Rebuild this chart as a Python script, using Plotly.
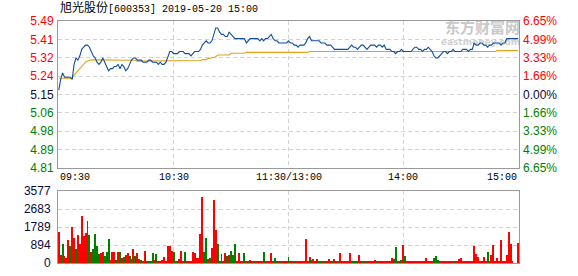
import plotly.graph_objects as go

# ---------------- data ----------------
title_text = "旭光股份[600353] 2019-05-20 15:00"
prev_close = 5.15
max_pct = 6.65
price_tick_labels = ["5.49", "5.41", "5.32", "5.24", "5.15", "5.06", "4.98", "4.89", "4.81"]
pct_tick_labels = ["6.65%", "4.99%", "3.33%", "1.66%", "0.00%", "1.66%", "3.33%", "4.99%", "6.65%"]
vol_tick_labels = ["0", "894", "1789", "2683", "3577"]
time_labels = ["09:30", "10:30", "11:30/13:00", "14:00", "15:00"]
time_label_minutes = [0, 60, 120, 180, 240]

price = [
    5.17, 5.22, 5.25, 5.23, 5.23, 5.23, 5.23, 5.22, 5.29, 5.32,
    5.31, 5.33, 5.36, 5.37, 5.38, 5.38, 5.37, 5.35, 5.33, 5.32,
    5.30, 5.29, 5.30, 5.32, 5.30, 5.28, 5.26, 5.27, 5.27, 5.28,
    5.28, 5.29, 5.27, 5.29, 5.28, 5.26, 5.27, 5.29, 5.31, 5.32,
    5.32, 5.31, 5.31, 5.31, 5.30, 5.30, 5.30, 5.31, 5.31, 5.30,
    5.30, 5.30, 5.29, 5.30, 5.29, 5.29, 5.30, 5.33, 5.35, 5.35,
    5.34, 5.34, 5.34, 5.35, 5.35, 5.35, 5.34, 5.34, 5.34, 5.33,
    5.34, 5.35, 5.35, 5.35, 5.36, 5.38, 5.39, 5.40, 5.39, 5.39,
    5.40, 5.43, 5.46, 5.46, 5.44, 5.43, 5.43, 5.42, 5.42, 5.44,
    5.43, 5.42, 5.41, 5.41, 5.41, 5.41, 5.41, 5.41, 5.39, 5.40,
    5.41, 5.41, 5.41, 5.41, 5.41, 5.40, 5.41, 5.40, 5.41, 5.41,
    5.42, 5.43, 5.41, 5.40, 5.40, 5.39, 5.39, 5.39, 5.39, 5.39,
    5.40, 5.39, 5.39, 5.38, 5.38, 5.37, 5.38, 5.38, 5.38, 5.39,
    5.41, 5.42, 5.40, 5.40, 5.40, 5.40, 5.40, 5.39, 5.39, 5.39,
    5.38, 5.38, 5.38, 5.37, 5.36, 5.36, 5.36, 5.36, 5.36, 5.36,
    5.36, 5.36, 5.37, 5.38, 5.37, 5.37, 5.36, 5.37, 5.38, 5.38,
    5.37, 5.36, 5.37, 5.38, 5.38, 5.38, 5.37, 5.38, 5.38, 5.37,
    5.38, 5.36, 5.36, 5.36, 5.35, 5.35, 5.34, 5.35, 5.35, 5.36,
    5.35, 5.35, 5.35, 5.35, 5.35, 5.36, 5.37, 5.37, 5.36, 5.36,
    5.35, 5.36, 5.36, 5.37, 5.36, 5.35, 5.33, 5.32, 5.32, 5.33,
    5.34, 5.35, 5.35, 5.34, 5.35, 5.35, 5.36, 5.35, 5.35, 5.35,
    5.35, 5.36, 5.36, 5.36, 5.35, 5.36, 5.36, 5.39, 5.38, 5.38,
    5.39, 5.39, 5.38, 5.38, 5.37, 5.38, 5.38, 5.39, 5.39, 5.39,
    5.39, 5.38, 5.39, 5.39, 5.41, 5.41, 5.41, 5.41, 5.41, 5.41,
    5.41,
]

avg_price = [
    5.225, 5.225, 5.225, 5.225, 5.225, 5.225, 5.225, 5.225, 5.240, 5.250,
    5.260, 5.270, 5.285, 5.295, 5.300, 5.306, 5.310, 5.311, 5.311, 5.311,
    5.311, 5.311, 5.311, 5.311, 5.311, 5.311, 5.311, 5.311, 5.311, 5.311,
    5.311, 5.311, 5.311, 5.311, 5.309, 5.309, 5.309, 5.309, 5.309, 5.309,
    5.309, 5.305, 5.305, 5.305, 5.305, 5.305, 5.305, 5.305, 5.305, 5.305,
    5.305, 5.305, 5.305, 5.305, 5.305, 5.305, 5.305, 5.305, 5.305, 5.305,
    5.305, 5.308, 5.308, 5.308, 5.308, 5.308, 5.308, 5.308, 5.308, 5.308,
    5.308, 5.308, 5.308, 5.308, 5.308, 5.312, 5.312, 5.312, 5.318, 5.318,
    5.322, 5.322, 5.326, 5.334, 5.334, 5.334, 5.334, 5.334, 5.334, 5.334,
    5.342, 5.342, 5.342, 5.342, 5.342, 5.342, 5.342, 5.342, 5.346, 5.346,
    5.346, 5.346, 5.346, 5.346, 5.346, 5.346, 5.346, 5.346, 5.346, 5.346,
    5.346, 5.346, 5.346, 5.346, 5.346, 5.346, 5.346, 5.346, 5.346, 5.346,
    5.346, 5.346, 5.346, 5.346, 5.346, 5.346, 5.346, 5.346, 5.346, 5.346,
    5.346, 5.350, 5.350, 5.350, 5.350, 5.350, 5.350, 5.350, 5.350, 5.350,
    5.350, 5.350, 5.350, 5.350, 5.350, 5.350, 5.350, 5.350, 5.350, 5.350,
    5.350, 5.350, 5.350, 5.350, 5.350, 5.350, 5.350, 5.350, 5.350, 5.350,
    5.350, 5.350, 5.350, 5.350, 5.350, 5.350, 5.350, 5.350, 5.350, 5.350,
    5.350, 5.350, 5.350, 5.350, 5.350, 5.350, 5.350, 5.350, 5.350, 5.350,
    5.350, 5.350, 5.350, 5.350, 5.350, 5.350, 5.350, 5.350, 5.350, 5.350,
    5.350, 5.350, 5.350, 5.350, 5.350, 5.350, 5.350, 5.350, 5.350, 5.350,
    5.350, 5.350, 5.350, 5.350, 5.350, 5.350, 5.350, 5.350, 5.350, 5.350,
    5.350, 5.350, 5.350, 5.350, 5.350, 5.350, 5.350, 5.350, 5.350, 5.350,
    5.350, 5.350, 5.350, 5.350, 5.350, 5.350, 5.350, 5.350, 5.350, 5.354,
    5.354, 5.354, 5.354, 5.354, 5.354, 5.354, 5.354, 5.354, 5.354, 5.354,
    5.354,
]

volume = [
    1530, 400, 965, 355, 240, 1160, 837, 1800, 1255, 676,
    1370, 934, 2335, 1320, 1500, 2077, 1370, 530, 676, 1450,
    837, 435, 480, 560, 320, 550, 1200, 160, 560, 560,
    130, 530, 560, 240, 290, 400, 515, 320, 190, 700,
    320, 480, 190, 130, 80, 610, 80, 80, 80, 480,
    130, 450, 80, 80, 160, 290, 64, 850, 850, 580,
    530, 64, 64, 190, 610, 64, 530, 50, 50, 64,
    530, 480, 225, 225, 1450, 3285, 530, 1255, 190, 240,
    725, 3140, 1640, 920, 100, 450, 100, 480, 355, 400,
    580, 400, 950, 80, 480, 50, 80, 480, 64, 80,
    160, 50, 100, 50, 50, 50, 50, 560, 50, 50,
    50, 480, 64, 225, 50, 50, 50, 50, 50, 50,
    290, 50, 50, 50, 50, 50, 50, 50, 80, 1210,
    50, 290, 160, 190, 80, 190, 50, 50, 50, 50,
    50, 190, 110, 50, 190, 50, 50, 480, 50, 50,
    50, 50, 480, 50, 50, 50, 50, 390, 80, 50,
    50, 50, 50, 110, 50, 130, 50, 50, 50, 50,
    50, 50, 50, 50, 240, 190, 770, 50, 50, 160,
    885, 340, 50, 50, 50, 50, 50, 50, 50, 50,
    50, 50, 240, 50, 50, 50, 240, 340, 160, 50,
    50, 50, 80, 50, 50, 50, 80, 50, 50, 190,
    240, 50, 50, 50, 50, 80, 50, 837, 435, 290,
    50, 50, 290, 50, 530, 80, 400, 885, 80, 240,
    50, 1127, 80, 80, 400, 1530, 934, 50, 0, 0,
    1014,
]

volume_up = [
    1, 1, 0, 1, 1, 1, 0, 1, 1, 0,
    1, 1, 1, 1, 1, 0, 0, 1, 0, 0,
    0, 0, 1, 1, 0, 0, 0, 1, 1, 1,
    0, 1, 0, 1, 0, 1, 1, 0, 1, 1,
    0, 1, 1, 0, 1, 1, 1, 0, 0, 0,
    1, 0, 1, 1, 1, 1, 1, 1, 1, 1,
    0, 1, 0, 1, 1, 1, 0, 1, 1, 1,
    1, 1, 1, 1, 1, 1, 0, 0, 1, 0,
    1, 1, 1, 0, 0, 1, 1, 1, 0, 1,
    0, 0, 0, 1, 1, 1, 1, 0, 1, 0,
    1, 1, 0, 1, 1, 1, 1, 0, 1, 1,
    1, 1, 1, 0, 0, 1, 0, 1, 1, 1,
    0, 1, 1, 0, 1, 1, 1, 1, 1, 1,
    1, 1, 0, 1, 1, 1, 0, 0, 1, 0,
    1, 1, 1, 0, 1, 1, 0, 1, 1, 1,
    1, 1, 1, 0, 0, 1, 0, 1, 1, 0,
    1, 0, 1, 1, 1, 1, 0, 1, 1, 1,
    1, 1, 1, 1, 1, 0, 0, 1, 1, 0,
    1, 0, 1, 1, 1, 1, 1, 1, 1, 1,
    1, 1, 1, 1, 1, 1, 0, 0, 0, 1,
    1, 1, 1, 1, 1, 1, 1, 0, 1, 1,
    1, 1, 1, 1, 1, 1, 1, 1, 1, 1,
    1, 1, 1, 1, 0, 1, 1, 1, 1, 1,
    1, 1, 1, 1, 1, 1, 1, 1, 1, 1,
    1,
]

# ---------------- style / layout ----------------
W, H = 578, 276
L, R, T, B = 58, 59, 21, 6
PH = H - T - B  # plot height in px


def py(y_px):
    """screen pixel y -> paper fraction"""
    return (H - B - y_px) / PH


def px(x_px):
    return (x_px - L) / (W - L - R)


RED = "#ff0000"
GREEN = "#008000"
MID = "#0a0a3c"
GRID = "#d2d2d2"
FRAME = "#9a9a9a"
BLUE = "#0f4f9e"
GOLD = "#e3a21a"

minutes = list(range(len(price)))
lo = prev_close * (1 - max_pct / 100)
hi = prev_close * (1 + max_pct / 100)
n = len(price_tick_labels)
price_tick_vals = [hi - k * (hi - lo) / (n - 1) for k in range(n)]


def colored(labels):
    out = []
    mid = len(labels) // 2
    for k, t in enumerate(labels):
        c = RED if k < mid else (MID if k == mid else GREEN)
        out.append(f"<span style='color:{c}'>{t}</span>")
    return out


vol_tick_vals = [int(v) for v in vol_tick_labels]

fig = go.Figure()
fig.add_trace(go.Bar(
    x=minutes, y=volume, width=0.5,
    marker=dict(color=[RED if u else GREEN for u in volume_up], line=dict(width=0)),
    xaxis="x2", yaxis="y2", hoverinfo="skip",
))
fig.add_trace(go.Scatter(
    x=minutes, y=avg_price, mode="lines",
    line=dict(color=GOLD, width=1.1), xaxis="x", yaxis="y", hoverinfo="skip",
))
fig.add_trace(go.Scatter(
    x=minutes, y=price, mode="lines",
    line=dict(color=BLUE, width=1.1), xaxis="x", yaxis="y3", hoverinfo="skip",
))

xcommon = dict(
    range=[-0.4, 240.4], tickvals=time_label_minutes, showticklabels=False,
    showgrid=True, gridcolor=GRID, griddash="4px,3px", gridwidth=1,
    showline=True, mirror=True, linecolor=FRAME, linewidth=1,
    zeroline=False, ticks="", fixedrange=True,
)
tickfont = dict(family="Liberation Sans, Arial, sans-serif", size=12, color=MID)

price_dom = [py(172), 1]
vol_dom = [0, py(196)]

fig.update_layout(
    width=W, height=H,
    margin=dict(l=L, r=R, t=T, b=B, pad=0),
    paper_bgcolor="white", plot_bgcolor="white",
    showlegend=False, bargap=0,
    xaxis=dict(**xcommon, anchor="y", domain=[0, 1]),
    xaxis2=dict(**xcommon, anchor="y2", domain=[0, 1], matches="x"),
    yaxis=dict(
        domain=price_dom, range=[lo, hi], anchor="x",
        tickvals=price_tick_vals, ticktext=colored(price_tick_labels),
        tickfont=tickfont, ticks="", ticklabelstandoff=1,
        showgrid=True, gridcolor=GRID, griddash="4px,3px", gridwidth=1,
        showline=True, mirror=True, linecolor=FRAME, linewidth=1,
        zeroline=False, fixedrange=True,
    ),
    yaxis3=dict(
        overlaying="y", side="right", range=[lo, hi], anchor="x",
        tickvals=price_tick_vals, ticktext=colored(pct_tick_labels),
        tickfont=tickfont, ticks="", ticklabelstandoff=3,
        showgrid=False, showline=False, zeroline=False, fixedrange=True,
    ),
    yaxis2=dict(
        domain=vol_dom, range=[0, vol_tick_vals[-1]], anchor="x2",
        tickvals=vol_tick_vals, ticktext=vol_tick_labels,
        tickfont=tickfont, ticks="", ticklabelstandoff=4,
        showgrid=True, gridcolor=GRID, griddash="4px,3px", gridwidth=1,
        showline=True, mirror=True, linecolor=FRAME, linewidth=1,
        zeroline=False, fixedrange=True,
    ),
)

mono = "Liberation Mono, DejaVu Sans Mono, monospace"
ann = []
anchors = ["left", "center", "center", "center", "right"]
for lab, m, a in zip(time_labels, time_label_minutes, anchors):
    ann.append(dict(
        x=m if a == "center" else (0 if a == "left" else 1),
        xref="x" if a == "center" else "paper",
        y=py(182), yref="paper", xanchor=a, yanchor="middle",
        text=lab, showarrow=False, font=dict(family=mono, size=10, color="#000000"),
    ))
ann.append(dict(
    x=0, xref="paper", y=py(8), yref="paper", xanchor="left", yanchor="middle",
    text=f"<span style='font-size:12px'>{title_text[:4]}</span>{title_text[4:]}",
    showarrow=False,
    font=dict(family=mono + ", Noto Sans CJK SC", size=10, color="#000000"),
))
fig.update_layout(annotations=ann)

# faint watermark, drawn beneath the lines
fig.add_shape(
    type="rect", xref="paper", yref="paper",
    x0=px(445), x1=px(520), y0=py(37), y1=py(21),
    line=dict(width=0), fillcolor="rgba(0,0,0,0)", layer="below",
    label=dict(text="<b>东方财富网</b>", font=dict(family="Noto Sans CJK SC", size=15, color="#c8c8c8"),
               textposition="middle center"),
)
fig.add_shape(
    type="rect", xref="paper", yref="paper",
    x0=px(442), x1=px(519), y0=py(46), y1=py(37),
    line=dict(width=0), fillcolor="rgba(0,0,0,0)", layer="below",
    label=dict(text="<b>eastmoney.com</b>", font=dict(family="DejaVu Sans", size=9, color="#d0d0d0"),
               textposition="middle center"),
)

fig.write_html("out.html", config={"displayModeBar": False})
